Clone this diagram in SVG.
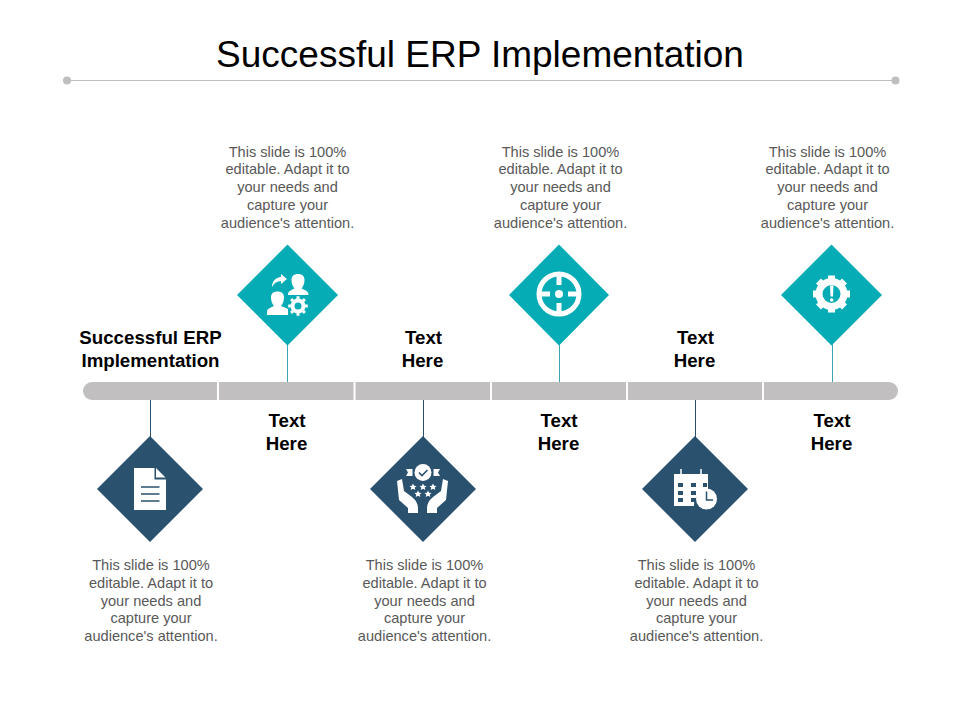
<svg xmlns="http://www.w3.org/2000/svg" width="960" height="720" viewBox="0 0 960 720">
<style>
text{font-family:"Liberation Sans",Arial,sans-serif}
.title{font-size:37px;fill:#000;text-anchor:middle}
.lab{font-size:18.700px;font-weight:bold;fill:#000;text-anchor:middle}
.body{font-size:14.600px;fill:#595959;text-anchor:middle}
.teal{fill:#05acb5}.navy{fill:#2a516e}
.w{fill:#fff}.ws{fill:none;stroke:#fff}
.ns{fill:none;stroke:#2a516e}
.ct{stroke:#3aa6b5;stroke-width:1}.cn{stroke:#2a516e;stroke-width:1}
</style>
<defs>
<g id="para" class="body">
<text y="0">This slide is 100%</text>
<text y="17.8">editable. Adapt it to</text>
<text y="35.6">your needs and</text>
<text y="53.4">capture your</text>
<text y="71.2">audience's attention.</text>
</g>
<path id="star" d="M0-3.600 1.100-1.200 3.600-1 1.700.5 2.300 3 0 1.700-2.300 3-1.700.5-3.600-1-1.100-1.200Z"/>
</defs>
<g id="header">
<text class="title" x="480" y="67">Successful ERP Implementation</text>
<line x1="67" y1="80.500" x2="895" y2="80.500" stroke="#bfbfbf" stroke-width="1"/>
<circle cx="67" cy="80.500" r="4" fill="#bfbfbf"/>
<circle cx="895.500" cy="80.500" r="4" fill="#bfbfbf"/>
</g>
<g id="connectors">
<line class="ct" x1="287.500" y1="340" x2="287.500" y2="382"/>
<line class="ct" x1="559.500" y1="340" x2="559.500" y2="382"/>
<line class="ct" x1="832.500" y1="340" x2="832.500" y2="382"/>
<line class="cn" x1="150.500" y1="400" x2="150.500" y2="440"/>
<line class="cn" x1="423.500" y1="400" x2="423.500" y2="440"/>
<line class="cn" x1="695.500" y1="400" x2="695.500" y2="440"/>
</g>
<g id="timeline">
<rect x="83" y="382" width="815" height="18" rx="9" fill="#c1bfbf"/>
<g fill="#fff"><rect x="217" y="382" width="2" height="18"/><rect x="353.500" y="382" width="2" height="18"/><rect x="490" y="382" width="2" height="18"/><rect x="626" y="382" width="2" height="18"/><rect x="762" y="382" width="2" height="18"/></g>
</g>
<g id="label-main"><text class="lab" x="150.500" y="343.500">Successful ERP</text><text class="lab" x="150.500" y="366.500">Implementation</text></g>
<g id="label-2"><text class="lab" x="287" y="427">Text</text><text class="lab" x="286.500" y="450">Here</text></g>
<g id="label-3"><text class="lab" x="423.500" y="343.500">Text</text><text class="lab" x="422.500" y="366.500">Here</text></g>
<g id="label-4"><text class="lab" x="559" y="427">Text</text><text class="lab" x="558.500" y="450">Here</text></g>
<g id="label-5"><text class="lab" x="695.500" y="343.500">Text</text><text class="lab" x="694.500" y="366.500">Here</text></g>
<g id="label-6"><text class="lab" x="832" y="427">Text</text><text class="lab" x="831.500" y="450">Here</text></g>

<g id="node-1">
<polygon class="navy" points="150,436 203,489 150,542 97,489"/>
<path class="w" d="M134 468H154.500V479.500H166V510H134Z"/>
<path class="w" d="M156 468 165.500 477.500H156Z"/>
<path class="ns" stroke-width="1.500" d="M141 487H159.500M141 494H159.500M141 501H159.500"/>
<use href="#para" x="151" y="570"/>
</g>
<g id="node-2">
<polygon class="teal" points="287.500,244.500 338,295 287.500,345.500 237,295"/>
<path class="w" d="M288 294.500C288 291 291.500 290 294.500 288.500C293 286.500 291.500 284 291.500 280C291.500 276 294 274 298 274C302 274 304.500 276 304.500 280C304.500 284 303 286.500 301.500 288.500C304.500 290 308.500 291 308.500 294.500V295H288Z"/>
<path class="w" d="M267 315V312C267 308.500 271 307.500 274 306C272.500 304 271 301.500 271 297.500C271 293.500 273.500 291.500 277.500 291.500C281.500 291.500 284 293.500 284 297.500C284 301.500 282.500 304 281 306C283 307 285 307.500 288 309V315Z"/>
<path class="w" d="M272 287C272 281 276 277.500 281 277V274L287 279 281 284V281C277 281 274 283 272 287Z"/>
<g transform="translate(298 306)"><circle r="5.500" class="ws" stroke-width="4"/><path class="ws" stroke-width="3" d="M0-9.800V-7M0 7V9.800M-9.800 0H-7M7 0H9.800M-6.900-6.900-5-5M5 5 6.900 6.900M-6.900 6.900-5 5M5-5 6.900-6.900"/></g>
<use href="#para" x="287.500" y="156.500"/>
</g>
<g id="node-3">
<polygon class="navy" points="423,436 476,489 423,542 370,489"/>
<circle class="w" cx="423" cy="472.500" r="8.500"/>
<path class="ns" stroke-width="1.600" d="M419 472.500 422 475.500 427.500 470"/>
<path class="w" d="M406 469H412.500V476H406L408 472.500ZM440 469H433.500V476H440L438 472.500Z"/>
<g class="w"><use href="#star" x="413" y="487"/><use href="#star" x="423" y="487"/><use href="#star" x="433" y="487"/><use href="#star" x="418" y="494"/><use href="#star" x="428" y="494"/></g>
<path class="w" d="M397 481 402 479 404 491 412 497Q418 502 418 508V513H408V508L399 500ZM448 481 443 479 441 491 433 497Q427 502 427 508V513H437V508L446 500Z"/>
<use href="#para" x="424.500" y="570"/>
</g>
<g id="node-4">
<polygon class="teal" points="559,244.500 609,295 559,345.500 509,295"/>
<circle class="ws" cx="559" cy="294" r="20" stroke-width="5"/>
<circle class="w" cx="559" cy="294" r="4"/>
<path class="ws" stroke-width="5" d="M559 276V285M559 303V312M541 294H550M568 294H577"/>
<use href="#para" x="560.500" y="156.500"/>
</g>
<g id="node-5">
<polygon class="navy" points="695,436 748,489 695,542 642,489"/>
<path class="w" d="M674 474H708V491A14 14 0 0 0 694 506H674Z"/>
<path class="ws" stroke-width="1.500" d="M681 469V478M701 469V478"/>
<path class="navy" d="M678 483H683V487H678ZM691 483H696V487H691ZM703 483H707V487H703ZM678 491H683V495H678ZM691 491H696V495H691ZM678 498H683V502H678ZM691 498H696V502H691Z"/>
<circle cx="706.500" cy="499" r="10.500" fill="#fff"/>
<path fill="none" stroke="#2a516e" stroke-width="1.500" d="M706.500 491.500V500H713"/>
<use href="#para" x="696.500" y="570"/>
</g>
<g id="node-6">
<polygon class="teal" points="831.500,244.500 882,295 831.500,345.500 781,295"/>
<circle class="ws" cx="831.500" cy="294" r="12.500" stroke-width="7"/>
<path class="ws" stroke-width="7" d="M831.500 275.500V281M831.500 307V312.500M813 294H818.500M844.500 294H850M818.500 281 822 284.500M841 303.500 844.500 307M818.500 307 822 303.500M841 284.500 844.500 281"/>
<path class="w" d="M830 285.500H833.500L833 296.500H830.500Z"/><circle class="w" cx="831.700" cy="300" r="1.800"/>
<use href="#para" x="827.500" y="156.500"/>
</g>
</svg>
